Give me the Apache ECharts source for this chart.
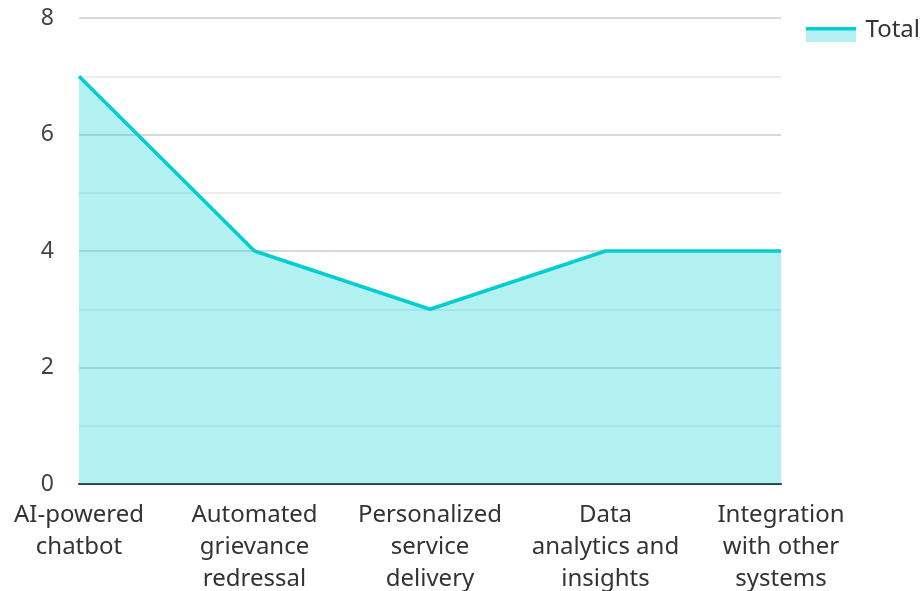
<!DOCTYPE html>
<html><head><meta charset="utf-8">
<script src="https://cdn.jsdelivr.net/npm/echarts@6/dist/echarts.min.js"></script>
<style>html,body{margin:0;padding:0;background:#fff}#c{width:922px;height:591px}</style>
</head><body><div id="c"></div>
<script>
var categories = ['AI-powered\nchatbot', 'Automated\ngrievance\nredressal', 'Personalized\nservice\ndelivery', 'Data\nanalytics and\ninsights', 'Integration\nwith other\nsystems'];
var totalValues = [7, 4, 3, 4, 4];
var yTicks = [0, 2, 4, 6, 8];
var seriesName = 'Total';
var lineColor = '#00CED1';
var areaColor = 'rgba(0,206,209,0.3)';

var chart = echarts.init(document.getElementById('c'));
chart.setOption({
  animation: false,
  textStyle: { fontFamily: 'Noto Sans' },
  legend: {
    right: 2, top: 18, padding: 0, itemWidth: 55, itemHeight: 14,
    icon: 'rect',
    itemStyle: { color: 'rgba(0,0,0,0)', borderWidth: 0 },
    textStyle: { fontSize: 24, color: '#333', fontFamily: 'Noto Sans' },
    data: [seriesName]
  },
  graphic: [
    { type: 'rect', left: 806, top: 27, shape: { width: 50, height: 15 }, style: { fill: areaColor }, silent: true },
    { type: 'rect', left: 806, top: 27, shape: { width: 50, height: 3.5 }, style: { fill: lineColor }, silent: true }
  ],
  grid: { left: 79, right: 141, top: 18, bottom: 107, containLabel: false, outerBoundsMode: 'none' },
  xAxis: {
    type: 'category', boundaryGap: false, data: categories,
    axisLine: { lineStyle: { color: '#333', width: 2 } },
    axisTick: { show: false },
    axisLabel: { fontSize: 24, color: '#333', lineHeight: 32, margin: 15, interval: 0, fontFamily: 'Noto Sans' }
  },
  yAxis: {
    type: 'value', min: 0, max: 8, interval: 2,
    axisLine: { show: false }, axisTick: { show: false },
    axisLabel: { fontSize: 23, color: '#444', margin: 25, fontFamily: 'Noto Sans',
      formatter: function (v) { return yTicks.indexOf(v) >= 0 ? String(v) : ''; } },
    splitLine: { lineStyle: { color: '#cccccc', width: 1.5 } },
    minorTick: { show: false, splitNumber: 2 },
    minorSplitLine: { show: true, lineStyle: { color: '#e8e8e8', width: 1.5 } }
  },
  series: [{
    name: seriesName, type: 'line', data: totalValues,
    symbol: 'none', color: lineColor,
    lineStyle: { width: 3.5, color: lineColor },
    areaStyle: { color: lineColor, opacity: 0.3 }
  }]
});
</script></body></html>
